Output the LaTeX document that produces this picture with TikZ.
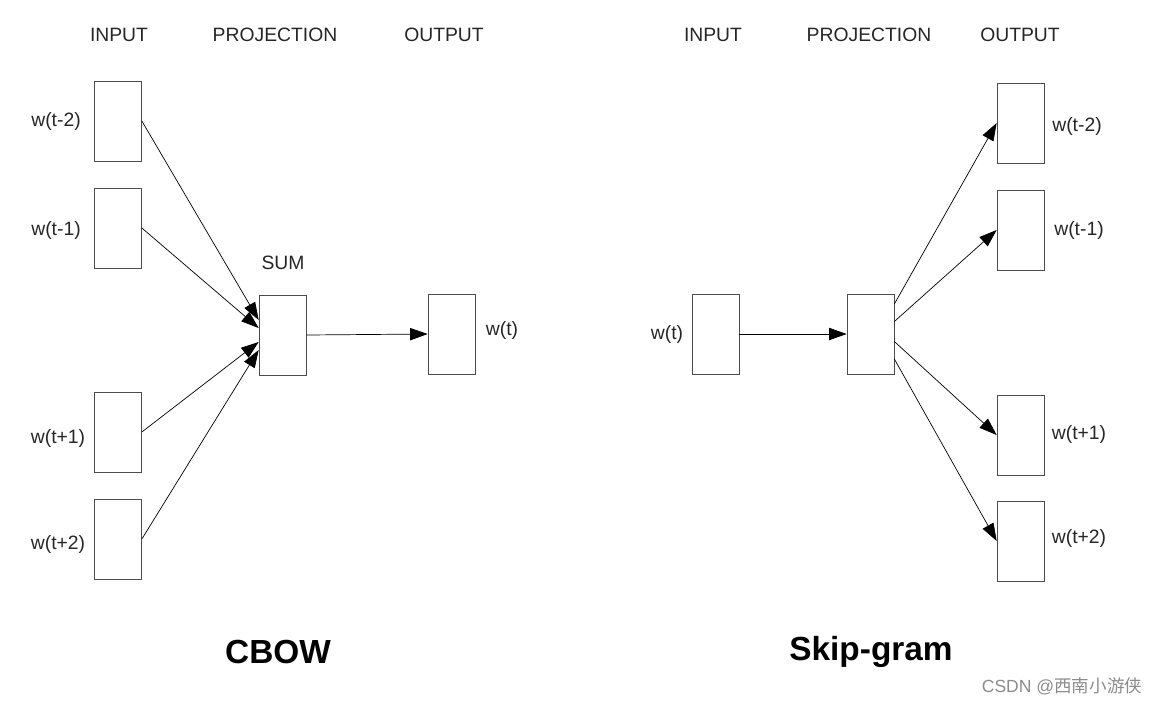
\documentclass[tikz,border=0pt]{standalone}
\usepackage{fontspec}
\setmainfont{Liberation Sans}
\newfontfamily\cjk{Noto Sans CJK SC}
\usetikzlibrary{arrows.meta,calc}
\tikzset{
	wbox/.style={draw=black!70, minimum width=0.94cm, minimum height=1.6cm, inner sep=0pt},
	lbl/.style={font=\fontsize{11pt}{13pt}\selectfont, text=black!85},
	link/.style={-{Triangle[length=10pt,width=7pt]}, thin}
	}
\begin{document}
\begin{tikzpicture}[x=0.02cm, y=-0.02cm]
	\useasboundingbox (0,0) rectangle (1162,704);

	% headings
	\node[lbl] (hin1) at (119,35) {INPUT};
	\node[lbl] (hpr1) at (275,35) {PROJECTION};
	\node[lbl] (hout1) at (444,35) {OUTPUT};
	\node[lbl] (hin2) at (713,35) {INPUT};
	\node[lbl] (hpr2) at (869,35) {PROJECTION};
	\node[lbl] (hout2) at (1020,35) {OUTPUT};

	% CBOW
	\node[wbox] (cin1) at (118,121) {};
	\node[wbox] (cin2) at (118,228) {};
	\node[wbox] (cin3) at (118,432) {};
	\node[wbox] (cin4) at (118,539) {};
	\node[lbl] at (56,121) {w(t-2)};
	\node[lbl] at (56,230) {w(t-1)};
	\node[lbl] at (58,438) {w(t+1)};
	\node[lbl] at (58,544) {w(t+2)};
	\node[wbox] (sum) at (282.5,335) {};
	\node[lbl] at (283,263) {SUM};
	\node[wbox] (cout) at (451.5,334) {};
	\node[lbl] at (502,330) {w(t)};
	\draw[link] (cin1.east) -- ($(sum.west)+(0,0.3cm)$);
	\draw[link] (cin2.east) -- ($(sum.west)+(0,0.14cm)$);
	\draw[link] (cin3.east) -- ($(sum.west)+(0,-0.14cm)$);
	\draw[link] (cin4.east) -- ($(sum.west)+(0,-0.3cm)$);
	\draw[link] (sum.east) -- (cout.west);
	\node[font=\bfseries\fontsize{19pt}{22pt}\selectfont] at (278,652) {CBOW};

	% Skip-gram
	\node[wbox] (sin) at (715.5,334) {};
	\node[lbl] at (667,334) {w(t)};
	\node[wbox] (proj) at (870.5,334) {};
	\node[wbox] (sout1) at (1020.5,123) {};
	\node[wbox] (sout2) at (1020.5,230) {};
	\node[wbox] (sout3) at (1020.5,435) {};
	\node[wbox] (sout4) at (1020.5,541) {};
	\node[lbl] at (1077,126) {w(t-2)};
	\node[lbl] at (1079,230) {w(t-1)};
	\node[lbl] at (1079,434) {w(t+1)};
	\node[lbl] at (1079,538) {w(t+2)};
	\draw[link] (sin.east) -- (proj.west);
	\draw[link] ($(proj.east)+(0,0.6cm)$) -- (sout1.west);
	\draw[link] ($(proj.east)+(0,0.25cm)$) -- (sout2.west);
	\draw[link] ($(proj.east)+(0,-0.15cm)$) -- (sout3.west);
	\draw[link] ($(proj.east)+(0,-0.5cm)$) -- (sout4.west);
	\node[font=\bfseries\fontsize{19pt}{22pt}\selectfont] at (871,652) {Skip-gram};

	\node[font=\fontsize{10pt}{12pt}\selectfont, text=black!45] at (1062,686) {CSDN @{\cjk 西南小游侠}};
\end{tikzpicture}
\end{document}
